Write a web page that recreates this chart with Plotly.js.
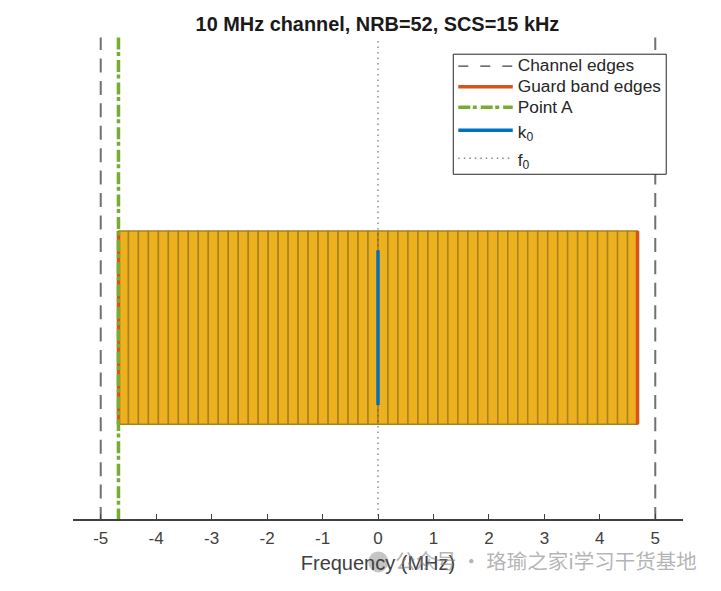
<!DOCTYPE html>
<html>
<head>
<meta charset="utf-8">
<script src="https://cdn.plot.ly/plotly-3.0.1.min.js"></script>
<style>html,body{margin:0;padding:0;background:#fff}</style>
</head>
<body>
<div id="chart" style="width:721px;height:591px"></div>
<script>
const rbCenters = [-4.59,-4.41,-4.23,-4.05,-3.87,-3.69,-3.51,-3.33,-3.15,-2.97,-2.79,-2.61,-2.43,-2.25,-2.07,-1.89,-1.71,-1.53,-1.35,-1.17,-0.99,-0.81,-0.63,-0.45,-0.27,-0.09,0.09,0.27,0.45,0.63,0.81,0.99,1.17,1.35,1.53,1.71,1.89,2.07,2.25,2.43,2.61,2.79,2.97,3.15,3.33,3.51,3.69,3.87,4.05,4.23,4.41,4.59];
const rbHeights = [1,1,1,1,1,1,1,1,1,1,1,1,1,1,1,1,1,1,1,1,1,1,1,1,1,1,1,1,1,1,1,1,1,1,1,1,1,1,1,1,1,1,1,1,1,1,1,1,1,1,1,1];
const channelX = [-5,-5,null,5,5];
const channelY = [0,2.5,null,0,2.5];
const guardX = [-4.68,-4.68,null,4.68,4.68];
const guardY = [0.5,1.5,null,0.5,1.5];
const pointAX = [-4.68,-4.68];
const pointAY = [2.5,0];
const k0X = [0,0];
const k0Y = [0.6,1.4];
const f0X = [0,0];
const f0Y = [0,2.5];
const tickVals = [-5,-4,-3,-2,-1,0,1,2,3,4,5];
const tickText = ['-5','-4','-3','-2','-1','0','1','2','3','4','5'];
const FONT = 'Liberation Sans, Arial, sans-serif';
const lbl = s => '<span style="font-size:17.3px">' + s + '</span>';

const traces = [
  {type:'bar', x:rbCenters, y:rbHeights, base:0.5, width:0.18, showlegend:false, hoverinfo:'skip',
   marker:{color:'#EDB120', line:{color:'#A8821E', width:1.5}}},
  {type:'scatter', mode:'lines', x:channelX, y:channelY, showlegend:false,
   line:{color:'#707070', width:2, dash:'14px,8.43px'}},
  {type:'scatter', mode:'lines', x:[null], y:[null], name:lbl('Channel edges'), showlegend:true, legend:'legend',
   line:{color:'#404040', width:1.2, dash:'10px,12px'}},
  {type:'scatter', mode:'lines', x:guardX, y:guardY, name:lbl('Guard band edges'), legend:'legend',
   line:{color:'#D95319', width:3.5}},
  {type:'scatter', mode:'lines', x:pointAX, y:pointAY, name:lbl('Point A'), legend:'legend',
   line:{color:'#77AC30', width:3.5, dash:'12px,2.5px,4px,3.93px'}},
  {type:'scatter', mode:'lines', x:k0X, y:k0Y, name:lbl('k<sub>0</sub>'), legend:'legend2',
   line:{color:'#0072BD', width:3.5}},
  {type:'scatter', mode:'lines', x:f0X, y:f0Y, name:lbl('f<sub>0</sub>'), legend:'legend2',
   line:{color:'#505050', width:1, dash:'1.5px,4px'}}
];

const legendCommon = {xanchor:'left', yanchor:'top', bgcolor:'rgba(0,0,0,0)', borderwidth:0,
  itemwidth:54.5, tracegroupgap:0, traceorder:'normal'};

const layout = {
  width:721, height:591, autosize:false,
  margin:{l:72.6, r:38.2, t:36.8, b:72.4, pad:0},
  paper_bgcolor:'#fff', plot_bgcolor:'#fff',
  showlegend:true,
  barmode:'overlay',
  font:{family:FONT, color:'#404040', size:15},
  title:{text:'<b>10 MHz channel, NRB=52, SCS=15 kHz</b>', font:{family:FONT, size:19.9, color:'#1a1a1a'},
         x:0.5235, xref:'container', xanchor:'center', y:0.96, yref:'container', yanchor:'middle'},
  xaxis:{range:[-5.5,5.5], tickmode:'array', tickvals:tickVals, ticktext:tickText,
         ticks:'inside', ticklen:5, tickwidth:1, tickcolor:'#404040', ticklabelstandoff:3,
         showline:true, linecolor:'#404040', linewidth:1.5, showgrid:false, zeroline:false,
         tickfont:{family:FONT, size:17, color:'#404040'},
         title:{text:'Frequency (MHz)', font:{family:FONT, size:20, color:'#404040'}, standoff:9}},
  yaxis:{range:[0.0106,2.503], visible:false, showgrid:false, zeroline:false},
  legend:Object.assign({}, legendCommon, {x:0.6234, y:0.9711, font:{family:FONT, size:13.5, color:'#262626'}}),
  legend2:Object.assign({}, legendCommon, {x:0.6234, y:0.846, font:{family:FONT, size:19.2, color:'#262626'}}),
  shapes:[
    {type:'rect', xref:'paper', yref:'paper', x0:0.6234, x1:0.9725, y0:0.7152, y1:0.9643,
     fillcolor:'#fff', line:{color:'#262626', width:1}, layer:'above'},
    {type:'circle', xref:'paper', yref:'paper', x0:0.4841, x1:0.5169, y0:-0.1108, y1:-0.0672,
     fillcolor:'rgba(150,150,150,0.55)', line:{width:0}, layer:'above'}],
  annotations:[{text:'公众号 · 珞瑜之家i学习干货基地', xref:'paper', yref:'paper', x:1.0, y:-0.0855, xanchor:'right', yanchor:'middle',
                xshift:16, showarrow:false, font:{family:'Noto Sans CJK SC', size:20.5, color:'rgba(130,130,130,0.6)'}}]
};
Plotly.newPlot('chart', traces, layout, {displayModeBar:false, responsive:false});
</script>
</body>
</html>
